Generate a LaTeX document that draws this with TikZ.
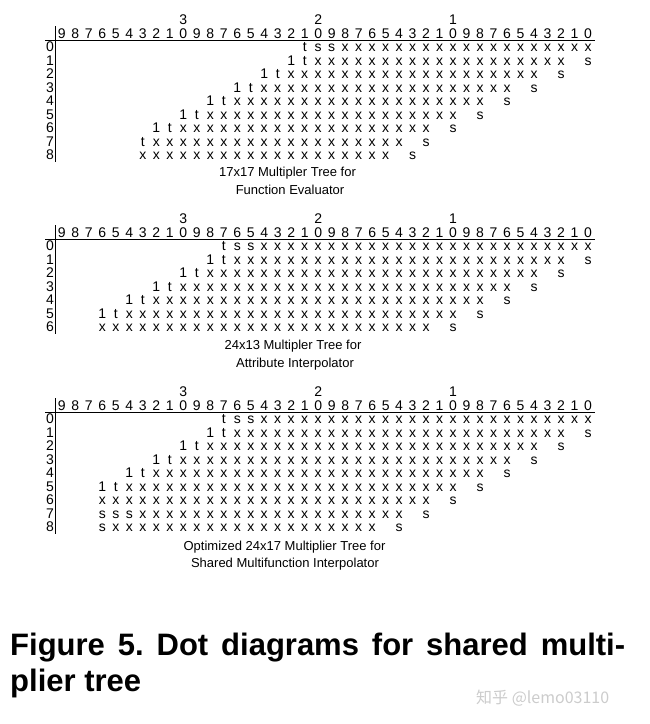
\documentclass[tikz,border=0pt]{standalone}
\usepackage{fontspec}
\setmainfont{Liberation Sans}
\newfontfamily\cjkfont{Noto Sans CJK SC}
\frenchspacing
\tikzset{
  cell/.style={inner sep=0pt, anchor=base, font=\fontsize{14}{14}\selectfont, text=black},
  captext/.style={inner sep=0pt, anchor=base, font=\fontsize{13}{13}\selectfont, text=black},
  rulestyle/.style={line width=0.9pt, black},
  figtext/.style={inner sep=0pt, anchor=base west, font=\bfseries\fontsize{31}{31}\selectfont},
}
% x position of column c
\newcommand{\dgx}[1]{588-13.49*(#1)}
% one cell: #1 diagram, #2 row, #3 column, #4 character
\newcommand{\dgcell}[4]{%
  \node[cell] (d#1r#2c#3) at ({\dgx{#3}},{\dgy+13.5*(#2+1)+5}) {#4};}
% a run: #1 diagram, #2 row, #3 low col, #4 high col, #5 character
\newcommand{\dgrun}[5]{%
  \foreach \cc in {#3,...,#4}{\dgcell{#1}{#2}{\cc}{#5}}}
% frame: #1 diagram, #2 number of rows
\newcommand{\dgframe}[2]{%
  \node[cell] (d#1tA) at ({\dgx{30}},{\dgy-14+5}) {3};
  \node[cell] (d#1tB) at ({\dgx{20}},{\dgy-14+5}) {2};
  \node[cell] (d#1tC) at ({\dgx{10}},{\dgy-14+5}) {1};
  \foreach \c in {0,...,39}{%
    \pgfmathtruncatemacro\dd{mod(\c,10)}%
    \node[cell] (d#1h\c) at ({\dgx{\c}},{\dgy+5}) {\dd};}
  \coordinate (d#1hl) at (45,{\dgy+7});
  \coordinate (d#1hr) at (595,{\dgy+7});
  \coordinate (d#1vt) at (55,{\dgy-7});
  \coordinate (d#1vb) at (55,{\dgy+13.5*(#2)+7});
  \draw[rulestyle] (d#1hl) -- (d#1hr);
  \draw[rulestyle] (d#1vt) -- (d#1vb);
  \pgfmathtruncatemacro\lastrow{#2-1}%
  \foreach \r in {0,...,\lastrow}{%
    \node[cell] (d#1l\r) at (50,{\dgy+13.5*(\r+1)+5}) {\r};}
}
\begin{document}
\begin{tikzpicture}[x=1pt,y=-1pt]
\fill[white] (0,0) rectangle (650,724);
\useasboundingbox (0,0) rectangle (650,724);

% ---------------- Diagram 1: 17x17 ----------------
\def\dgy{33}
\dgframe{1}{9}
\dgcell{1}{0}{21}{t}\dgcell{1}{0}{20}{s}\dgcell{1}{0}{19}{s}
\dgrun{1}{0}{0}{18}{x}
\foreach \i in {1,...,6}{%
  \pgfmathtruncatemacro\ca{20+2*\i}%
  \pgfmathtruncatemacro\cb{19+2*\i}%
  \pgfmathtruncatemacro\lo{2*\i}%
  \pgfmathtruncatemacro\hi{18+2*\i}%
  \pgfmathtruncatemacro\cs{2*\i-2}%
  \dgcell{1}{\i}{\ca}{1}\dgcell{1}{\i}{\cb}{t}%
  \dgrun{1}{\i}{\lo}{\hi}{x}\dgcell{1}{\i}{\cs}{s}}
\dgcell{1}{7}{33}{t}\dgrun{1}{7}{14}{32}{x}\dgcell{1}{7}{12}{s}
\dgrun{1}{8}{15}{33}{x}\dgcell{1}{8}{13}{s}
\node[captext] (cap1a) at (287.5,176) {17x17 Multipler Tree for};
\node[captext] (cap1b) at (290,194) {Function Evaluator};

% ---------------- Diagram 2: 24x13 ----------------
\def\dgy{232}
\dgframe{2}{7}
\dgcell{2}{0}{27}{t}\dgcell{2}{0}{26}{s}\dgcell{2}{0}{25}{s}
\dgrun{2}{0}{0}{24}{x}
\foreach \i in {1,...,5}{%
  \pgfmathtruncatemacro\ca{26+2*\i}%
  \pgfmathtruncatemacro\cb{25+2*\i}%
  \pgfmathtruncatemacro\lo{2*\i}%
  \pgfmathtruncatemacro\hi{24+2*\i}%
  \pgfmathtruncatemacro\cs{2*\i-2}%
  \dgcell{2}{\i}{\ca}{1}\dgcell{2}{\i}{\cb}{t}%
  \dgrun{2}{\i}{\lo}{\hi}{x}\dgcell{2}{\i}{\cs}{s}}
\dgrun{2}{6}{12}{36}{x}\dgcell{2}{6}{10}{s}
\node[captext] (cap2a) at (293,349) {24x13 Multipler Tree for};
\node[captext] (cap2b) at (295,367) {Attribute Interpolator};

% ---------------- Diagram 3: optimized 24x17 ----------------
\def\dgy{405}
\dgframe{3}{9}
\dgcell{3}{0}{27}{t}\dgcell{3}{0}{26}{s}\dgcell{3}{0}{25}{s}
\dgrun{3}{0}{0}{24}{x}
\foreach \i in {1,...,5}{%
  \pgfmathtruncatemacro\ca{26+2*\i}%
  \pgfmathtruncatemacro\cb{25+2*\i}%
  \pgfmathtruncatemacro\lo{2*\i}%
  \pgfmathtruncatemacro\hi{24+2*\i}%
  \pgfmathtruncatemacro\cs{2*\i-2}%
  \dgcell{3}{\i}{\ca}{1}\dgcell{3}{\i}{\cb}{t}%
  \dgrun{3}{\i}{\lo}{\hi}{x}\dgcell{3}{\i}{\cs}{s}}
\dgrun{3}{6}{12}{36}{x}\dgcell{3}{6}{10}{s}
\dgrun{3}{7}{34}{36}{s}\dgrun{3}{7}{14}{33}{x}\dgcell{3}{7}{12}{s}
\dgcell{3}{8}{36}{s}\dgrun{3}{8}{16}{35}{x}\dgcell{3}{8}{14}{s}
\node[captext] (cap3a) at (284.5,550) {Optimized 24x17 Multiplier Tree for};
\node[captext] (cap3b) at (285,567) {Shared Multifunction Interpolator};

% ---------------- Figure caption ----------------
\node[figtext] (fig1) at (10,655) {\makebox[615pt][s]{Figure 5. Dot diagrams for shared multi-}};
\node[figtext] (fig2) at (10,691) {plier tree};
\node[inner sep=0pt, anchor=base west, font=\cjkfont\fontsize{16}{16}\selectfont, text=black!20] (wm)
  at (476,703) {知乎 @lemo03110};
\end{tikzpicture}
\end{document}
